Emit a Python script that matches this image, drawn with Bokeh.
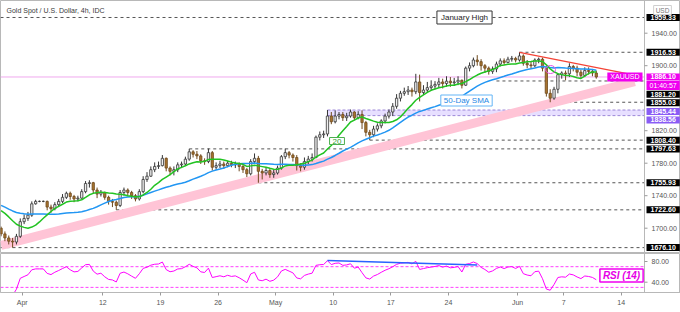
import numpy as np
import pandas as pd
from bokeh.plotting import figure
from bokeh.layouts import column
from bokeh.models import Label, FixedTicker, Range1d, ColumnDataSource
from bokeh.core.properties import value
from bokeh.embed import file_html
from bokeh.resources import INLINE

FONT = "Liberation Sans"

# ---------------- data: XAU/USD, 8-hour candles (3 per trading day) ----------------
first_date = "2021-03-30"
first_open = 1700.0
close = [
    1693, 1688, 1684,   1683, 1690, 1708,   1712, 1716, 1730,   1733, 1733, 1733,    # Mar30 Mar31 Apr1 Apr2
    1726, 1724, 1729,   1733, 1738, 1743,   1739, 1736, 1737,   1745, 1755, 1756,    # Apr5-8
    1747, 1742, 1744,                                                                # Apr9
    1738, 1733, 1732,   1728, 1744, 1747,   1744, 1740, 1736,   1745, 1760, 1764,    # Apr12-15
    1772, 1776, 1777,                                                                # Apr16
    1786, 1774, 1770,   1772, 1778, 1779,   1785, 1794, 1791,   1789, 1783, 1782,    # Apr19-22
    1793, 1775, 1777,                                                                # Apr23
    1779, 1777, 1780,   1778, 1779, 1776,   1772, 1767, 1782,   1786, 1770, 1768,    # Apr26-29
    1771, 1766, 1768,                                                                # Apr30
    1774, 1788, 1793,   1790, 1787, 1777,   1775, 1782, 1785,   1787, 1812, 1815,    # May3-6
    1816, 1838, 1831,                                                                # May7
    1838, 1840, 1836,   1838, 1843, 1836,   1840, 1830, 1818,   1815, 1822, 1826,    # May10-13
    1832, 1838, 1843,                                                                # May14
    1850, 1860, 1866,   1868, 1870, 1868,   1880, 1867, 1870,   1873, 1875, 1877,    # May17-20
    1880, 1878, 1881,                                                                # May21
    1879, 1880, 1882,   1876, 1897, 1900,   1907, 1905, 1900,   1897, 1893, 1896,    # May24-27
    1902, 1906, 1904,                                                                # May28
    1908, 1909, 1907,   1912, 1903, 1901,   1900, 1907, 1908,   1897, 1866, 1860,    # May31 Jun1-3
    1871, 1889, 1891,                                                                # Jun4
    1890, 1899, 1897,   1892, 1888, 1894,   1893, 1891, 1886.10,                     # Jun7-9
]
high = [
    1702, 1696, 1691,   1688, 1693, 1712,   1717, 1720, 1733,   1735, 1734, 1734,
    1734, 1729, 1732,   1736, 1742, 1745,   1745, 1741, 1740,   1748, 1758, 1759,
    1757, 1750, 1747,
    1745, 1740, 1736,   1734, 1747, 1750,   1749, 1746, 1742,   1748, 1764, 1769,
    1776, 1781, 1782,
    1790, 1787, 1776,   1776, 1781, 1782,   1788, 1797.63, 1796,   1795, 1791, 1786,
    1798, 1795, 1781,
    1783, 1782, 1783,   1783, 1782, 1781,   1778, 1774, 1785,   1792, 1789, 1773,
    1775, 1774, 1772,
    1777, 1790, 1798,   1795, 1792, 1790,   1780, 1787, 1789,   1792, 1814, 1819,
    1820, 1845.44, 1843,
    1845, 1843, 1843,   1842, 1846, 1844,   1844, 1845, 1832,   1821, 1826, 1829,
    1834, 1841, 1846,
    1854, 1865, 1869,   1873, 1875, 1873,   1890, 1889, 1876,   1880, 1882, 1881,
    1885, 1884, 1887,
    1886, 1885, 1887,   1883, 1899, 1904,   1910, 1913, 1908,   1902, 1899, 1899,
    1905, 1909, 1909,
    1911, 1912, 1911,   1916.53, 1914, 1907,   1905, 1909, 1910,   1910, 1899, 1871,
    1874, 1891, 1893,
    1894, 1903, 1901,   1900, 1895, 1898,   1898, 1896, 1894,
]
low = [
    1690, 1684, 1680,   1676.10, 1680, 1688,   1705, 1709, 1714,   1729, 1732, 1732,
    1722, 1719, 1722,   1727, 1731, 1736,   1735, 1732, 1733,   1736, 1743, 1750,
    1743, 1737, 1739,
    1735, 1729, 1726,   1722.60, 1726, 1740,   1740, 1736, 1733,   1734, 1743, 1757,
    1763, 1769, 1773,
    1776, 1770, 1765,   1765, 1769, 1774,   1777, 1783, 1787,   1785, 1779, 1778,
    1780, 1771, 1772,
    1774, 1773, 1775,   1775, 1774, 1770,   1768, 1763, 1765,   1779, 1755.93, 1760,
    1765, 1762, 1762,
    1766, 1772, 1785,   1786, 1782, 1771,   1770, 1772, 1779,   1782, 1786, 1808,
    1811, 1813, 1828,
    1829, 1834, 1832,   1832, 1836, 1833,   1834, 1822, 1813,   1808.40, 1812, 1819,
    1823, 1829, 1835,
    1838, 1847, 1856,   1863, 1864, 1862,   1865, 1856, 1864,   1867, 1869, 1871,
    1873, 1872, 1874,
    1874, 1875, 1876,   1872, 1875, 1893,   1898, 1900, 1894,   1891, 1889, 1890,
    1892, 1899, 1901,
    1903, 1905, 1904,   1905, 1900, 1897,   1896, 1898, 1903,   1893, 1862, 1855.03,
    1858, 1866, 1884,
    1882, 1886, 1893,   1887, 1884, 1886,   1889, 1887, 1884,
]
# closes before the visible window (only used to seed the averages / RSI)
warmup_close = [1738, 1742, 1745, 1741, 1737, 1735, 1728, 1724, 1727, 1733, 1735, 1732,
                1730, 1726, 1728, 1725, 1722, 1727, 1731, 1733, 1730, 1728, 1726, 1716, 1710]

# horizontal levels: price, first candle ("date/slot") or None for full width
level_prices = [1959.33, 1916.53, 1881.20, 1855.03, 1808.40, 1797.63, 1755.93, 1722.60, 1676.10]
level_from = [None, "2021-06-01/0", "2021-05-28/0", "2021-06-03/2", "2021-05-13/0",
              "2021-04-21/1", "2021-04-29/1", "2021-04-13/0", None]
band_levels = [1838.56, 1845.44]
band_from = "2021-05-07/1"
tag_prices = [1959.33, 1916.53, 1881.20, 1855.03, 1845.44, 1838.56, 1808.40, 1797.63,
              1755.93, 1722.60, 1676.10]
tag_kind = ["k", "k", "k", "k", "p", "p", "k", "k", "k", "k", "k"]
support_dates = ["2021-03-30/0", "2021-06-15/0"]
support_prices = [1678.8, 1880.5]
resist_dates = ["2021-06-01/0", "2021-06-15/0"]
resist_prices = [1916.53, 1888.5]
rsi_div_dates = ["2021-05-07/1", "2021-05-26/1"]
rsi_div_values = [82, 73]
price_ticks = [1700, 1740, 1780, 1820, 1900, 1940]
rsi_ticks = [40, 80]
rsi_levels = [70, 30]
tick_dates = ["2021-04-01", "2021-04-12", "2021-04-19", "2021-04-26", "2021-05-03", "2021-05-10",
              "2021-05-17", "2021-05-24", "2021-06-01", "2021-06-07", "2021-06-14"]
tick_labels = ["Apr", "12", "19", "26", "May", "10", "17", "24", "Jun", "7", "14"]
MA_FAST = 10    # 20 x 4h bars
MA_SLOW = 25    # 50 x 4h bars
RSI_N = 10      # RSI smoothing length on the 8h bars

# ---------------- geometry ----------------
W, H1, H2 = 680, 253, 59
RIGHT = 36
FRAME_W = W - RIGHT
PX_DAY = 11.52
PX_USD = 0.8125
days = pd.bdate_range(first_date, "2021-06-30")
day_pos = {d: i for i, d in enumerate(days)}
X0 = day_pos[pd.Timestamp("2021-04-01")] - 21.7 / PX_DAY
X1 = X0 + FRAME_W / PX_DAY          # price-axis line
X2 = X0 + W / PX_DAY                # right edge of canvas
Y_TOP = 1700 + 227.7 / PX_USD
Y_BOT = Y_TOP - H1 / PX_USD
RSI_PX = 0.5175
R_TOP = 80 + 8 / RSI_PX
R_BOT = R_TOP - (H2 - 20) / RSI_PX
AX_COL = "#b8b8b8"
LBL_COL = "#555555"


def slot_x(s):
    d, k = s.split("/")
    return day_pos[pd.Timestamp(d)] + (int(k) + 0.5) / 3


def px_x(px):
    return X0 + px / PX_DAY


def px_y(py):
    return Y_TOP - py / PX_USD


n = len(close)
xs = np.arange(n) / 3 + 1 / 6
opens = np.array([first_open] + close[:-1], dtype=float)
closes = np.array(close, dtype=float)
up = closes >= opens
src = ColumnDataSource(dict(
    x=xs, top=np.maximum(opens, closes), bottom=np.minimum(opens, closes),
    high=high, low=low,
    fill=np.where(up, "#efefef", "#a8742f"),
    line=np.where(up, "#353535", "#6e4a1e"),
))

allc = np.array(warmup_close + close, dtype=float)
ma_fast = pd.Series(allc).rolling(MA_FAST).mean().values[-n:]
ma_slow = pd.Series(allc).rolling(MA_SLOW).mean().values[-n:]

diff = np.diff(allc)
gain = np.clip(diff, 0, None)
loss = np.clip(-diff, 0, None)
ag, al = gain[:RSI_N].mean(), loss[:RSI_N].mean()
rsi_all = [np.nan] * (RSI_N + 1)
for i in range(RSI_N, len(diff)):
    ag = (ag * (RSI_N - 1) + gain[i]) / RSI_N
    al = (al * (RSI_N - 1) + loss[i]) / RSI_N
    rsi_all.append(100 - 100 / (1 + ag / al) if al > 0 else 100)
rsi = np.array(rsi_all[-n:])


def add_label(fig, x, y, text, size="7px", color="#333333", align="left", base="middle",
              bg=None, border=None, style="normal", pad=0, bw=1, x_offset=0):
    fig.add_layout(Label(x=x, y=y, text=text, text_font=FONT, text_font_size=size,
                         text_color=color, text_align=align, text_baseline=base,
                         text_font_style=style, background_fill_color=bg,
                         border_line_color=border, border_line_width=bw,
                         padding=pad, x_offset=x_offset))


def right_axis(fig, ticks, px_per_unit_x, y0, y1):
    k = len(ticks)
    fig.segment(x0=[X1], y0=[y0], x1=[X1], y1=[y1], line_color=AX_COL, line_width=1)
    fig.segment(x0=[X1] * k, y0=ticks, x1=[X1 + 3 / px_per_unit_x] * k, y1=ticks,
                line_color="#9a9a9a", line_width=1)
    fig.text(x=[X1 + 7 / px_per_unit_x] * k, y=ticks, text=[f"{t:.2f}" for t in ticks],
             text_font=value(FONT), text_font_size=value("7px"), text_color=LBL_COL,
             text_baseline="middle", text_align="left")


# ---------------- price panel ----------------
p = figure(width=W, height=H1, output_backend="svg", toolbar_location=None,
           x_range=Range1d(X0, X2), y_range=Range1d(Y_BOT, Y_TOP),
           x_axis_location=None, y_axis_location=None, min_border=0)
p.grid.visible = False
p.outline_line_color = AX_COL
p.background_fill_color = "white"

# support band / shading
bx0 = slot_x(band_from)
p.quad(left=[bx0], right=[X1], bottom=[band_levels[0]], top=[band_levels[1]],
       fill_color="#e3d9ff", fill_alpha=0.85, line_color=None)
p.segment(x0=[bx0, bx0], y0=band_levels, x1=[X1, X1], y1=band_levels,
          line_color="#9c86d8", line_dash="3 2", line_width=1)
lx0 = [X0 if f is None else slot_x(f) for f in level_from]
p.segment(x0=lx0, y0=level_prices, x1=[X1] * len(level_prices), y1=level_prices,
          line_color="#555555", line_dash="3 3", line_width=1)
# current price line
p.segment(x0=[X0], y0=[close[-1]], x1=[X1], y1=[close[-1]], line_color="#f0a8ee", line_width=1)
# rising support
p.line([slot_x(s) for s in support_dates], support_prices, line_color="#ffc4d6",
       line_width=9, line_cap="butt")

# candles
p.segment(x0="x", y0="high", x1="x", y1="low", source=src, line_color="line", line_width=1)
p.vbar(x="x", width=0.2, top="top", bottom="bottom", source=src,
       fill_color="fill", line_color="line", line_width=0.8)

# moving averages
p.line(xs, ma_slow, line_color="#2196f3", line_width=1.5)
p.line(xs, ma_fast, line_color="#22c322", line_width=1.5)
# falling resistance
p.line([slot_x(s) for s in resist_dates], resist_prices, line_color="#f44336", line_width=1.3)
# crossover circle
p.ellipse(x=[px_x(550)], y=[px_y(69)], width=10 / PX_DAY, height=8 / PX_USD,
          fill_color=None, line_color="#e84ee8", line_width=1)

right_axis(p, price_ticks, PX_DAY, Y_BOT, Y_TOP)

add_label(p, px_x(6), px_y(10), "Gold Spot / U.S. Dollar, 4h, IDC", size="7px", color="#3a3a3a")
add_label(p, px_x(464), 1959.33, "January High", size="8px", color="#222222", align="center",
          bg="white", border="#333333", pad=(4, 2))
add_label(p, px_x(466), px_y(100), "50-Day SMA", size="8px", color="#1e88e5", align="center",
          bg="white", border="#64b5f6", pad=(3, 1))
add_label(p, px_x(336.5), px_y(140.5), "20", size="8px", color="#2e9e2e", align="center",
          bg="white", border="#4caf50", pad=(3, 1))

# right-hand price tags with TradingView-style stacking
TAG_H = 8.6
items = []
for pr, kd in zip(tag_prices, tag_kind):
    items.append(dict(kind=kd, price=pr, top=(Y_TOP - pr) * PX_USD - TAG_H / 2, h=TAG_H))
items.append(dict(kind="cur", price=close[-1], top=(Y_TOP - close[-1]) * PX_USD - TAG_H / 2,
                  h=2 * TAG_H))
items.sort(key=lambda d: d["top"])
bottom = -1e9
for it in items:
    it["top"] = max(it["top"], bottom)
    bottom = it["top"] + it["h"]
for it in items:
    cy = it["top"] + TAG_H / 2
    if it["kind"] == "cur":
        add_label(p, X1, px_y(cy), f"{it['price']:.2f}", color="white", bg="#f000f0",
                  pad=(4, 1), style="bold", x_offset=2)
        add_label(p, X1, px_y(cy + TAG_H), "01:40:57", color="white", bg="#f000f0",
                  pad=(3, 1), x_offset=2)
        add_label(p, X1, px_y(cy), "XAUUSD", color="white", bg="#f000f0", align="right",
                  pad=(3, 1), x_offset=-2)
    else:
        add_label(p, X1, px_y(cy), f"{it['price']:.2f}", color="white",
                  bg="#000000" if it["kind"] == "k" else "#8a5cf5", pad=(4, 1),
                  style="bold", x_offset=2)
add_label(p, X1 + 18 / PX_DAY, px_y(9.5), "USD", size="6.5px", color="#777777", align="center",
          border="#cfcfcf", pad=(2, 1))

# ---------------- RSI panel ----------------
q = figure(width=W, height=H2, output_backend="svg", toolbar_location=None,
           x_range=p.x_range, y_range=Range1d(R_BOT, R_TOP),
           y_axis_location=None, x_axis_location="below",
           min_border_left=0, min_border_right=0, min_border_top=0, min_border_bottom=20)
q.grid.visible = False
q.outline_line_color = AX_COL
xa = q.xaxis[0]
xa.major_label_text_font_size = "7px"
xa.major_label_text_font = FONT
xa.major_label_text_color = LBL_COL
xa.axis_line_color = AX_COL
xa.major_tick_line_color = "#9a9a9a"
xa.major_tick_out = 3
xa.major_tick_in = 0
xa.minor_tick_line_color = None
xa.major_label_standoff = 3
tick_pos = [day_pos[pd.Timestamp(t)] for t in tick_dates]
xa.ticker = FixedTicker(ticks=tick_pos)
xa.major_label_overrides = {tp: lab for tp, lab in zip(tick_pos, tick_labels)}

q.segment(x0=[X0] * 2, y0=rsi_levels, x1=[X1] * 2, y1=rsi_levels,
          line_color="#ff40ff", line_dash="3 2", line_width=1)
q.line(xs, rsi, line_color="#ff00ff", line_width=1)
q.line([slot_x(s) for s in rsi_div_dates], rsi_div_values, line_color="#2962ff", line_width=1.5)
right_axis(q, rsi_ticks, PX_DAY, R_BOT, R_TOP)
add_label(q, px_x(621), R_TOP - 22 / RSI_PX, "RSI (14)", size="10px", color="#e600e6",
          align="center", bg="white", border="#f000f0", style="bold italic", pad=(3, 1), bw=1.5)

layout = column(p, q, spacing=0)
open("out.html", "w").write(file_html(layout, INLINE))
